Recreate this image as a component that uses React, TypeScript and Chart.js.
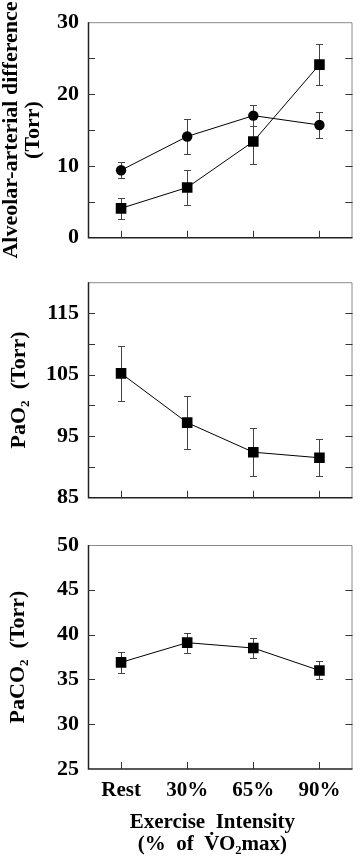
import React, { useEffect, useRef } from 'react';
import { Chart, registerables } from 'chart.js';
Chart.register(...registerables);

const categories = ['Rest', '30%', '65%', '90%'];
const aadCircle = [9.4, 14.1, 17.0, 15.7];
const aadCircleErr = [1.1, 2.4, 1.5, 1.85];
const aadSquare = [4.1, 7.0, 13.4, 24.1];
const aadSquareErr = [1.5, 2.4, 3.2, 2.9];
const pao2 = [105.2, 97.2, 92.4, 91.5];
const pao2Err = [4.5, 4.3, 3.9, 3.0];
const paco2 = [36.9, 39.1, 38.5, 36.0];
const paco2Err = [1.2, 1.1, 1.1, 1.0];

const FONT = '"Liberation Serif", "Times New Roman", serif';

const framePlugin = {
  id: 'frameTicks',
  beforeDatasetsDraw(chart: any) {
    const { ctx, chartArea: a, scales } = chart;
    const x = scales.x;
    const y = scales.y;
    ctx.save();
    ctx.lineWidth = 1;
    ctx.strokeStyle = '#8a8a8a';
    ctx.beginPath();
    ctx.moveTo(a.left, a.top + 0.5);
    ctx.lineTo(a.right - 0.5, a.top + 0.5);
    ctx.lineTo(a.right - 0.5, a.bottom);
    ctx.stroke();
    ctx.strokeStyle = '#222';
    ctx.lineWidth = 1.5;
    ctx.beginPath();
    ctx.moveTo(a.left + 0.5, a.top);
    ctx.lineTo(a.left + 0.5, a.bottom);
    ctx.lineTo(a.right, a.bottom);
    ctx.stroke();
    ctx.lineWidth = 1;
    ctx.strokeStyle = '#333';
    y.ticks.forEach((t: any) => {
      const py = Math.round(y.getPixelForValue(t.value)) + 0.5;
      if (py < a.top + 2 || py > a.bottom - 2) return;
      ctx.beginPath();
      ctx.moveTo(a.left, py);
      ctx.lineTo(a.left + 7, py);
      ctx.moveTo(a.right - 7, py);
      ctx.lineTo(a.right, py);
      ctx.stroke();
    });
    categories.forEach((_, i) => {
      const px = Math.round(x.getPixelForValue(i)) + 0.5;
      ctx.beginPath();
      ctx.moveTo(px, a.bottom);
      ctx.lineTo(px, a.bottom - 7);
      ctx.stroke();
    });
    ctx.strokeStyle = '#444';
    chart.data.datasets.forEach((ds: any) => {
      const errs = ds.errors;
      if (!errs) return;
      ds.data.forEach((v: number, i: number) => {
        const px = Math.round(x.getPixelForValue(i)) + 0.5;
        const top = Math.round(y.getPixelForValue(v + errs[i])) + 0.5;
        const bot = Math.round(y.getPixelForValue(v - errs[i])) + 0.5;
        ctx.beginPath();
        ctx.moveTo(px, top);
        ctx.lineTo(px, bot);
        ctx.moveTo(px - 3.5, top);
        ctx.lineTo(px + 3.5, top);
        ctx.moveTo(px - 3.5, bot);
        ctx.lineTo(px + 3.5, bot);
        ctx.stroke();
      });
    });
    ctx.restore();
  },
};

function series(data: number[], errors: number[], style: string) {
  return {
    data,
    errors,
    borderColor: '#000',
    borderWidth: 1,
    pointStyle: style,
    pointRadius: style === 'rect' ? 7.5 : 5.2,
    pointBackgroundColor: '#000',
    pointBorderColor: '#000',
    pointBorderWidth: 0,
    tension: 0,
    fill: false,
  } as any;
}

type PanelProps = {
  top: number;
  height: number;
  datasets: any[];
  yMin: number;
  yMax: number;
  labelFn: (v: number) => string;
  yTitle: string | string[];
  yTitleSize: number;
  yTitlePad: number;
  padding: { top: number; bottom: number };
  showX: boolean;
};

function Panel(p: PanelProps) {
  const ref = useRef<HTMLCanvasElement>(null);
  useEffect(() => {
    const canvas = ref.current!;
    const chart = new Chart(canvas, {
      type: 'line',
      data: { labels: categories, datasets: p.datasets },
      plugins: [framePlugin],
      options: {
        responsive: false,
        animation: false,
        devicePixelRatio: 1,
        layout: { padding: { top: p.padding.top, bottom: p.padding.bottom, left: 0, right: 2 } },
        plugins: { legend: { display: false }, tooltip: { enabled: false } },
        scales: {
          x: {
            type: 'category',
            offset: true,
            display: p.showX,
            grid: { display: false, drawTicks: false },
            border: { display: false },
            ticks: {
              color: '#000',
              padding: 9,
              font: { family: FONT, size: 21, weight: 'bold' },
              maxRotation: 0,
            },
            title: {
              display: p.showX,
              text: ['Exercise  Intensity   ', '(%  of  V\u0307O\u2082max)   '],
              color: '#000',
              font: { family: FONT, size: 21, weight: 'bold', lineHeight: 1.05 },
              padding: { top: 0, bottom: 8 },
            },
            afterFit: (s: any) => {
              if (p.showX) s.height = 95;
            },
          },
          y: {
            type: 'linear',
            min: p.yMin,
            max: p.yMax,
            grid: { display: false, drawTicks: false },
            border: { display: false },
            ticks: {
              stepSize: 5,
              autoSkip: false,
              color: '#000',
              padding: 9,
              font: { family: FONT, size: 22, weight: 'bold' },
              callback: (v: any) => p.labelFn(Number(v)),
            },
            title: {
              display: true,
              text: p.yTitle,
              color: '#000',
              font: { family: FONT, size: p.yTitleSize, weight: 'bold', lineHeight: 1.0 },
              padding: { top: p.yTitlePad, bottom: 0 },
            },
            afterFit: (s: any) => {
              s.width = 88;
            },
          },
        },
      } as any,
    });
    return () => chart.destroy();
  }, []);
  return (
    <canvas
      ref={ref}
      width={360}
      height={p.height}
      style={{ position: 'absolute', left: 0, top: p.top, width: 360, height: p.height, display: 'block' }}
    />
  );
}

export default function App() {
  return (
    <div style={{ position: 'absolute', left: 0, top: 0, width: 360, height: 864, background: '#fff' }}>
      <Panel
        top={0}
        height={260}
        datasets={[series(aadCircle, aadCircleErr, 'circle'), series(aadSquare, aadSquareErr, 'rect')]}
        yMin={0}
        yMax={30}
        labelFn={(v) => (v % 10 === 0 ? String(v) : '')}
        yTitle={['Alveolar-arterial difference', '(Torr)']}
        yTitleSize={22}
        yTitlePad={0}
        padding={{ top: 15, bottom: 21 }}
        showX={false}
      />
      <Panel
        top={260}
        height={260}
        datasets={[series(pao2, pao2Err, 'rect')]}
        yMin={85}
        yMax={120}
        labelFn={(v) => ((v - 85) % 10 === 0 && v <= 115 ? String(v) : '')}
        yTitle={'PaO\u2082  (Torr)'}
        yTitleSize={22}
        yTitlePad={8}
        padding={{ top: 19, bottom: 14 }}
        showX={false}
      />
      <Panel
        top={520}
        height={344}
        datasets={[series(paco2, paco2Err, 'rect')]}
        yMin={25}
        yMax={50}
        labelFn={(v) => String(v)}
        yTitle={'PaCO\u2082  (Torr)'}
        yTitleSize={22}
        yTitlePad={7}
        padding={{ top: 25, bottom: 0 }}
        showX={true}
      />
    </div>
  );
}
